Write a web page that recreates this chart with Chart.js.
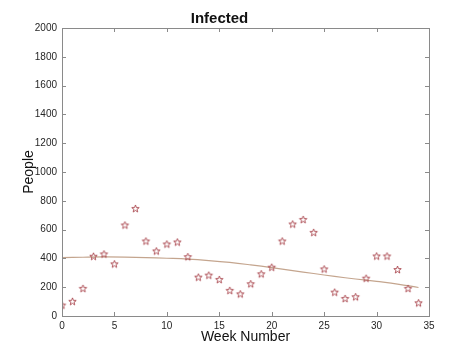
<!DOCTYPE html>
<html>
<head>
<meta charset="utf-8">
<script src="https://cdn.jsdelivr.net/npm/chart.js@4.4.1/dist/chart.umd.min.js"></script>
<style>
html,body{margin:0;padding:0;background:#fff;}
#wrap{width:474px;height:355px;position:relative;}
</style>
</head>
<body>
<div id="wrap"><canvas id="c" width="474" height="355"></canvas></div>
<script>
// ---- data ----
const weeks = [0,1,2,3,4,5,6,7,8,9,10,11,12,13,14,15,16,17,18,19,20,21,22,23,24,25,26,27,28,29,30,31,32,33,34];
const infected = [76,102,192,415,431,362,632,747,521,452,500,514,412,270,284,254,178,154,224,293,339,521,639,671,581,327,166,122,134,263,417,417,323,192,92];
const fitWeeks = [0,2,4,6,8,10,12,14,16,18,20,22,24,26,28,30,32,34];
const fitValues = [405,408,410,409,406,401,395,385,372,355,336,315,295,275,257,240,222,198];
const xTicks = [0,5,10,15,20,25,30,35];
const yTicks = [0,200,400,600,800,1000,1200,1400,1600,1800,2000];

// pentagram marker
function makeStar(color){
  const s = 11, cv = document.createElement('canvas');
  cv.width = s; cv.height = s;
  const g = cv.getContext('2d');
  const cx = s/2, cy = s/2 + 0.4, R = 3.9, r = 1.6;
  g.beginPath();
  for (let i = 0; i < 10; i++){
    const rad = (i % 2 === 0) ? R : r;
    const a = -Math.PI/2 + i*Math.PI/5;
    const px = cx + rad*Math.cos(a), py = cy + rad*Math.sin(a);
    if (i === 0) g.moveTo(px, py); else g.lineTo(px, py);
  }
  g.closePath();
  g.strokeStyle = color; g.lineWidth = 0.9; g.stroke();
  return cv;
}
const starImg = makeStar('#a8434b');

const boxPlugin = {
  id: 'box',
  afterDatasetsDraw(chart){
    const {ctx, chartArea:a, scales} = chart;
    ctx.save();
    ctx.strokeStyle = '#8a8a8a';
    ctx.lineWidth = 1;
    ctx.strokeRect(Math.round(a.left)+0.5, Math.round(a.top)+0.5, Math.round(a.right-a.left), Math.round(a.bottom-a.top));
    const L = 4;
    ctx.beginPath();
    xTicks.forEach(v => {
      const x = Math.round(scales.x.getPixelForValue(v)) + 0.5;
      ctx.moveTo(x, a.bottom); ctx.lineTo(x, a.bottom - L);
      ctx.moveTo(x, a.top); ctx.lineTo(x, a.top + L);
    });
    yTicks.forEach(v => {
      const y = Math.round(scales.y.getPixelForValue(v)) + 0.5;
      ctx.moveTo(a.left, y); ctx.lineTo(a.left + L, y);
      ctx.moveTo(a.right, y); ctx.lineTo(a.right - L, y);
    });
    ctx.stroke();
    ctx.restore();
  }
};

const font = "'Liberation Sans', Arial, Helvetica, sans-serif";
new Chart(document.getElementById('c'), {
  type: 'scatter',
  data: {
    datasets: [
      {
        type: 'scatter',
        data: weeks.map((w,i) => ({x: w, y: infected[i]})),
        pointStyle: starImg,
        pointRadius: 4,
        order: 1
      },
      {
        type: 'line',
        data: fitWeeks.map((w,i) => ({x: w, y: fitValues[i]})),
        borderColor: '#c4a58e',
        borderWidth: 1.2,
        pointRadius: 0,
        tension: 0.4,
        fill: false,
        order: 2
      }
    ]
  },
  options: {
    responsive: false,
    animation: false,
    devicePixelRatio: 1,
    layout: { padding: { left: 10, right: 45, top: 0, bottom: 4 } },
    plugins: {
      legend: { display: false },
      tooltip: { enabled: false },
      title: {
        display: true,
        text: 'Infected',
        color: '#111',
        font: { family: font, size: 15, weight: 'bold', lineHeight: 1.2 },
        padding: { top: 10, bottom: 0 }
      }
    },
    scales: {
      x: {
        type: 'linear', min: 0, max: 35,
        afterBuildTicks: s => { s.ticks = xTicks.map(v => ({value: v})); },
        afterFit: s => { s.height = 35; },
        ticks: { color: '#262626', font: { family: font, size: 10 }, padding: 4, maxRotation: 0, callback: v => String(v) },
        grid: { display: false, drawTicks: false },
        border: { display: false },
        title: { display: true, text: 'Week Number', color: '#111', font: { family: font, size: 14 }, padding: { top: 0, bottom: 5 } }
      },
      y: {
        type: 'linear', min: 0, max: 2000,
        afterBuildTicks: s => { s.ticks = yTicks.map(v => ({value: v})); },
        afterFit: s => { s.width = 52; },
        ticks: { color: '#262626', font: { family: font, size: 10 }, padding: 5, callback: v => String(v) },
        grid: { display: false, drawTicks: false },
        border: { display: false },
        title: { display: true, text: 'People', color: '#111', font: { family: font, size: 14 }, padding: { top: 11, bottom: 0 } }
      }
    }
  },
  plugins: [boxPlugin]
});
</script>
</body>
</html>
